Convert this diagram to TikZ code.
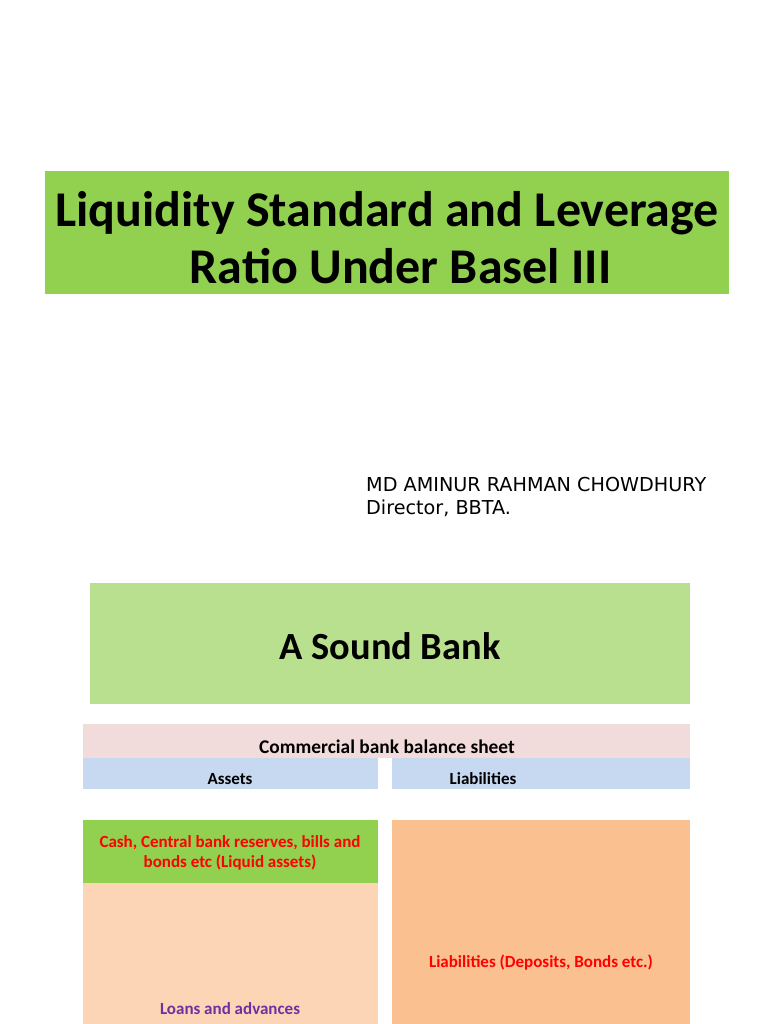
\documentclass[tikz,border=0pt]{standalone}
\usepackage{fontspec}
\setmainfont{Carlito}
\newfontfamily\verd{DejaVu Sans}
\definecolor{titlegreen}{HTML}{92D050}
\definecolor{soundgreen}{HTML}{B9E08E}
\definecolor{pinkhdr}{HTML}{F2DCDB}
\definecolor{bluehdr}{HTML}{C6D9F0}
\definecolor{peach}{HTML}{FBD5B5}
\definecolor{orangebox}{HTML}{FAC090}
\definecolor{purp}{HTML}{7030A0}
\begin{document}
\begin{tikzpicture}[x=1pt,y=-1pt,
  lbl/.style={font=\fontsize{17}{20}\selectfont\bfseries, align=center}]
\useasboundingbox (0,0) rectangle (768,1024);
\fill[white] (0,0) rectangle (768,1024);
% title
\fill[titlegreen] (45,171) rectangle (729,294);
\node[font=\fontsize{50}{57}\selectfont\bfseries, align=center] (title) at (387,238) {Liquidity Standard and Leverage\\\hspace*{27pt}Ratio Under Basel III};
% author
\node[font=\verd\fontsize{19.2}{23}\selectfont, align=left, anchor=base west, inner sep=0pt] (author) at (366,514) {MD AMINUR RAHMAN CHOWDHURY\\Director, BBTA.};
% sound bank
\fill[soundgreen] (90,583) rectangle (690,704);
\node[font=\fontsize{38.4}{44}\selectfont\bfseries] (sound) at (390,646) {A Sound Bank};
% balance sheet
\fill[pinkhdr] (83,724) rectangle (690,758);
\node[lbl, font=\fontsize{19.4}{22}\selectfont\bfseries] (cbbs) at (387,747) {Commercial bank balance sheet};
\fill[bluehdr] (83,758) rectangle (378,789);
\fill[bluehdr] (392,758) rectangle (690,789);
\node[lbl] (assets) at (230,779) {Assets};
\node[lbl] (liab) at (483,779) {Liabilities};
\fill[titlegreen] (83,820) rectangle (378,883);
\fill[peach] (83,883) rectangle (378,1024);
\fill[orangebox] (392,820) rectangle (690,1024);
\node[lbl, text=red] (cash) at (230,853) {Cash, Central bank reserves, bills and\\bonds etc (Liquid assets)};
\node[lbl, text=red] (liabd) at (541,963) {Liabilities (Deposits, Bonds etc.)};
\node[lbl, text=purp] (loans) at (230,1009) {Loans and advances};
\end{tikzpicture}
\end{document}
